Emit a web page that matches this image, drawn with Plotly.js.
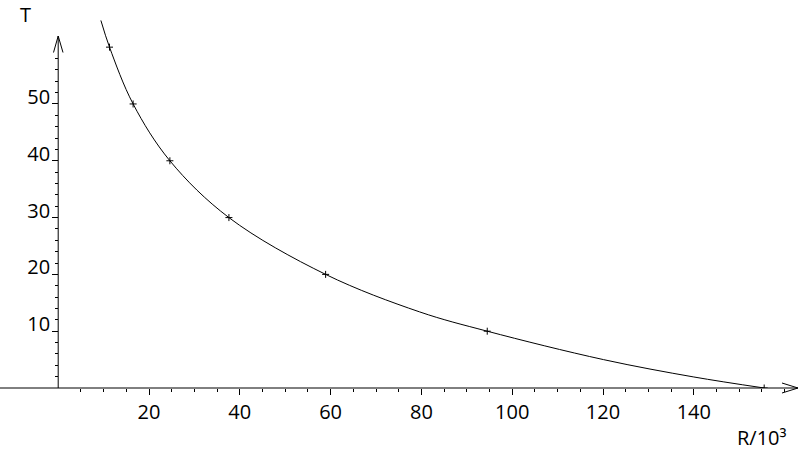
<!DOCTYPE html>
<html>
<head>
<meta charset="utf-8">
<script src="https://cdn.plot.ly/plotly-3.0.1.min.js"></script>
<style>html,body{margin:0;padding:0;background:#fff;}#chart{width:800px;height:450px;}</style>
</head>
<body>
<div id="chart"></div>
<script>
// Measured points (R in units of 10^3, T)
var pointR = [11.3, 16.5, 24.6, 37.6, 58.9, 94.5, 155.5];
var pointT = [60, 50, 40, 30, 20, 10, 0];

// Points
var curveR = [9.4, 11.3, 16.5, 24.6, 37.6, 58.9, 79.6, 94.5, 120.1, 140, 155.5];
var curveT = [64.7, 60, 50, 40, 30, 20, 13.4, 10, 5.0, 1.94, 0];

// Tick labels
var xTickVals = [20, 40, 60, 80, 100, 120, 140];
var yTickVals = [10, 20, 30, 40, 50];
var xMinorVals = [5,10,15,25,30,35,45,50,55,65,70,75,85,90,95,105,110,115,125,130,135,145,150,155,160];
var yMinorVals = [2,4,6,8,12,14,16,18,22,24,26,28,32,34,36,38,42,44,46,48,52,54,56,58];

var xLabel = 'R/10³';
var yLabel = 'T';

var FONT = 'Open Sans, sans-serif';
var W = 800, PH = 388;            // plot area height in px (top margin 0)
function px(x) { return x / W; }
function py(y) { return (PH - y) / PH; }

var axisLine = {color: '#000', width: 1};

var traces = [
  {x: curveR, y: curveT, mode: 'lines', type: 'scatter',
   line: {color: '#000', width: 1, shape: 'spline', smoothing: 1}, hoverinfo: 'skip'},
  {x: pointR, y: pointT, mode: 'markers', type: 'scatter',
   marker: {symbol: 'cross-thin', size: 5, line: {color: '#000', width: 1}}, hoverinfo: 'skip'}
];

var layout = {
  width: 800, height: 450,
  margin: {l: 0, r: 0, t: 0, b: 62},
  paper_bgcolor: '#fff', plot_bgcolor: '#fff',
  showlegend: false,
  font: {family: FONT, size: 20, color: '#000'},
  xaxis: {
    range: [-12.82, 163.39], showgrid: false, zeroline: false,
    showline: false, ticks: 'outside', ticklen: 6, tickwidth: 1, tickcolor: '#000',
    tickmode: 'array', tickvals: xTickVals, ticktext: xTickVals.map(String),
    minor: {tickmode: 'array', tickvals: xMinorVals, ticks: 'outside', ticklen: 3, tickwidth: 1, tickcolor: '#000', showgrid: false},
    tickfont: {family: FONT, size: 20, color: '#000'}
  },
  yaxis: {
    range: [0, 68.3], showgrid: false, zeroline: false,
    anchor: 'free', position: 58.2 / 800, side: 'left',
    showline: false, ticks: 'outside', ticklen: 6, tickwidth: 1, tickcolor: '#000',
    tickmode: 'array', tickvals: yTickVals, ticktext: yTickVals.map(String),
    minor: {tickmode: 'array', tickvals: yMinorVals, ticks: 'outside', ticklen: 3, tickwidth: 1, tickcolor: '#000', showgrid: false},
    ticklabelshift: -7, ticklabelstandoff: -2,
    tickfont: {family: FONT, size: 20, color: '#000'}
  },
  shapes: [
    // x axis line + arrow
    {type: 'line', xref: 'paper', yref: 'paper', x0: 0, x1: px(798), y0: py(388), y1: py(388), line: axisLine},
    {type: 'line', xref: 'paper', yref: 'paper', x0: px(798), x1: px(782), y0: py(388), y1: py(383), line: axisLine},
    {type: 'line', xref: 'paper', yref: 'paper', x0: px(798), x1: px(782), y0: py(388), y1: py(393), line: axisLine},
    // y axis line + arrow
    {type: 'line', xref: 'paper', yref: 'paper', x0: px(58.2), x1: px(58.2), y0: py(388), y1: py(36), line: axisLine},
    {type: 'line', xref: 'paper', yref: 'paper', x0: px(58.2), x1: px(53.5), y0: py(36), y1: py(52.5), line: axisLine},
    {type: 'line', xref: 'paper', yref: 'paper', x0: px(58.2), x1: px(63), y0: py(36), y1: py(52.5), line: axisLine}
  ],
  annotations: [
    {text: yLabel, xref: 'paper', yref: 'paper', x: px(25), y: py(14.5),
     xanchor: 'center', yanchor: 'middle', showarrow: false, font: {family: FONT, size: 20, color: '#000'}},
    {text: xLabel, xref: 'paper', yref: 'paper', x: px(762), y: py(437),
     xanchor: 'center', yanchor: 'middle', showarrow: false, font: {family: FONT, size: 20, color: '#000'}}
  ]
};

Plotly.newPlot('chart', traces, layout, {staticPlot: true, displayModeBar: false});
</script>
</body>
</html>
